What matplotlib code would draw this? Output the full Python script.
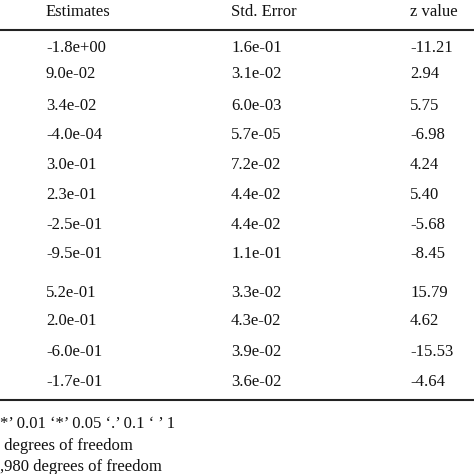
import matplotlib
matplotlib.use("Agg")
import matplotlib.pyplot as plt

headers = ["Estimates", "Std. Error", "z value"]
estimates = ["-1.8e+00", "9.0e-02", "3.4e-02", "-4.0e-04", "3.0e-01", "2.3e-01",
             "-2.5e-01", "-9.5e-01", "5.2e-01", "2.0e-01", "-6.0e-01", "-1.7e-01"]
std_errors = ["1.6e-01", "3.1e-02", "6.0e-03", "5.7e-05", "7.2e-02", "4.4e-02",
              "4.4e-02", "1.1e-01", "3.3e-02", "4.3e-02", "3.9e-02", "3.6e-02"]
z_values = ["-11.21", "2.94", "5.75", "-6.98", "4.24", "5.40",
            "-5.68", "-8.45", "15.79", "4.62", "-15.53", "-4.64"]
footnotes = ["*\u2019 0.01 \u2018*\u2019 0.05 \u2018.\u2019 0.1 \u2018 \u2019 1",
             " degrees of freedom",
             ",980 degrees of freedom"]

row_y = [48, 74, 106, 135, 165, 195, 225, 254, 293, 321, 352, 382]

fig = plt.figure(figsize=(4.74, 4.74), dpi=100)
ax = fig.add_axes([0, 0, 1, 1])
ax.set_xlim(0, 474)
ax.set_ylim(474, 0)
ax.axis("off")
font = dict(family="Liberation Serif", fontsize=12, color="#111111", va="center", ha="left")
col_x = [46, 231, 410]
for x, h in zip(col_x, headers):
    ax.text(x, 12, h, **font)
ax.plot([0, 474], [30, 30], color="#222222", lw=1.5)
for y, e, s, z in zip(row_y, estimates, std_errors, z_values):
    ax.text(col_x[0], y, e, **font)
    ax.text(col_x[1], y, s, **font)
    ax.text(col_x[2], y, z, **font)
ax.plot([0, 474], [400, 400], color="#222222", lw=1.5)
for y, t in zip([424, 446, 467], footnotes):
    ax.text(0, y, t, **font)
fig.savefig("out.png", dpi=100)
